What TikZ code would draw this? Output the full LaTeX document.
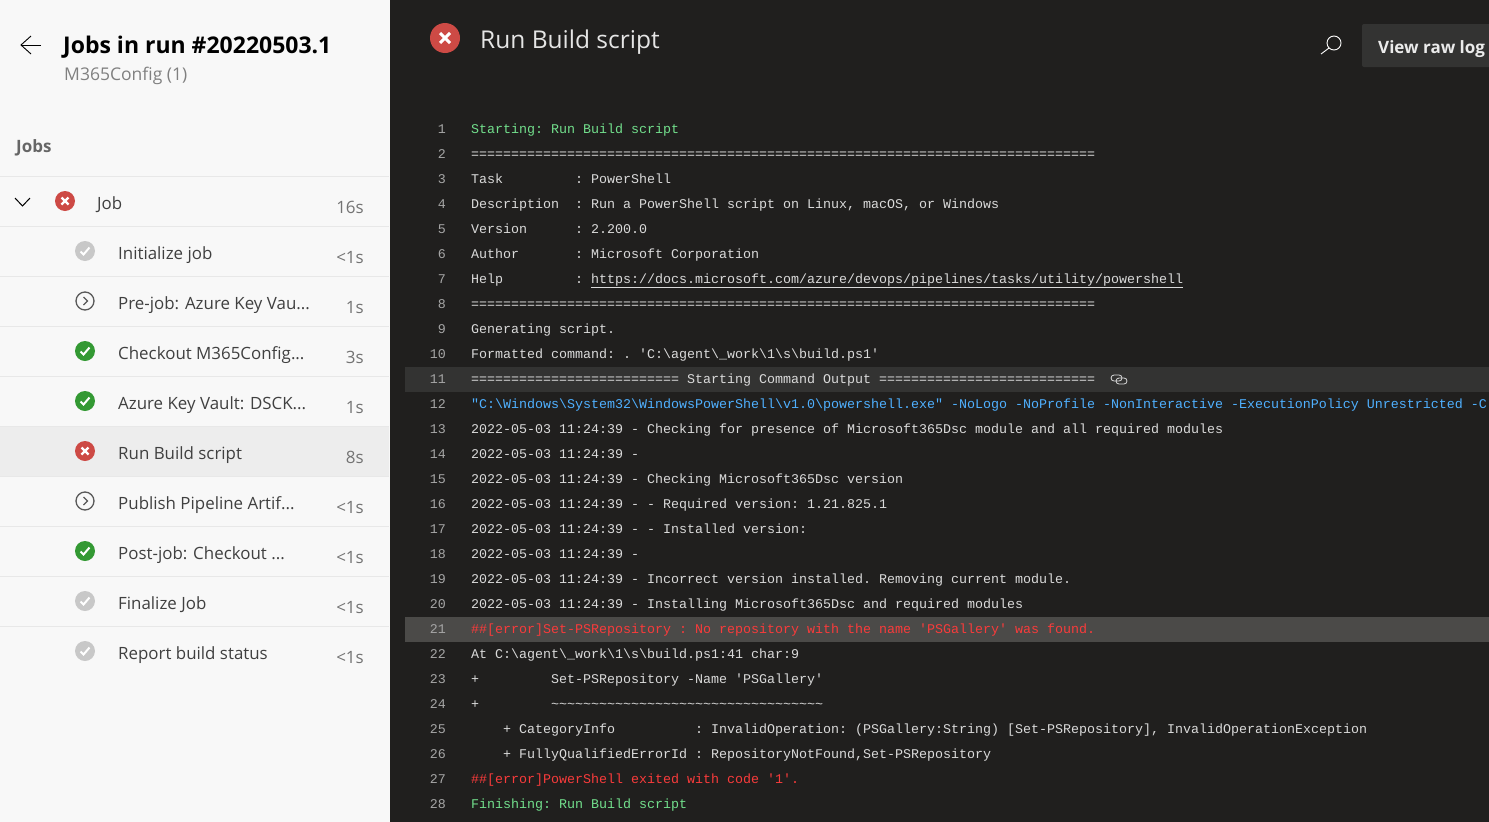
\documentclass[tikz,border=0pt]{standalone}
\usepackage{fontspec}
\setmainfont{Open Sans}
\setmonofont{Liberation Mono}
\definecolor{panelbg}{HTML}{F8F8F8}
\definecolor{logbg}{HTML}{201F1E}
\definecolor{rowline}{HTML}{E8E8E8}
\definecolor{rowsel}{HTML}{EDEDED}
\definecolor{barsel}{HTML}{333332}
\definecolor{barerr}{HTML}{4B4A48}
\definecolor{okgreen}{HTML}{339933}
\definecolor{badred}{HTML}{CD4A45}
\definecolor{skipgrey}{HTML}{C8C8C8}
\definecolor{logtxt}{HTML}{DADADA}
\definecolor{lognum}{HTML}{A6A6A6}
\definecolor{logok}{HTML}{72DF8C}
\definecolor{logerr}{HTML}{F93B3B}
\definecolor{logcmd}{HTML}{4FB0FF}
\newcommand{\bs}{\textbackslash}
\newcommand{\cutoff}{.\kern0pt.\kern0pt.}
\tikzset{
  logline/.style={anchor=base west,inner sep=0pt,text=logtxt,font=\ttfamily\fontsize{13.33}{16}\selectfont},
  lineno/.style={anchor=base east,inner sep=0pt,text=lognum,font=\ttfamily\fontsize{13.33}{16}\selectfont},
  rowname/.style={anchor=base west,inner sep=0pt,text=black!75,font=\fontsize{16.9}{20}\selectfont},
  rowtime/.style={anchor=base east,inner sep=0pt,text=black!55,font=\fontsize{17}{20}\selectfont},
  statdot/.style={circle,minimum size=20pt,inner sep=0pt},
  statok/.style={statdot,fill=okgreen,path picture={
    \draw[white,line width=2pt] ([shift={(-4.5,0.5)}]path picture bounding box.center)
      -- ++(3,3) -- ++(6,-7);}},
  statskip/.style={statdot,fill=skipgrey,path picture={
    \draw[white,line width=2pt] ([shift={(-4.5,0.5)}]path picture bounding box.center)
      -- ++(3,3) -- ++(6,-7);}},
  statbad/.style={statdot,fill=badred,path picture={
    \draw[white,line width=2.4pt] ([shift={(-3.5,-3.5)}]path picture bounding box.center) -- ++(7,7);
    \draw[white,line width=2.4pt] ([shift={(3.5,-3.5)}]path picture bounding box.center) -- ++(-7,7);}},
  statbadbig/.style={statdot,minimum size=30pt,fill=badred,path picture={
    \draw[white,line width=3pt] ([shift={(-5,-5)}]path picture bounding box.center) -- ++(10,10);
    \draw[white,line width=3pt] ([shift={(5,-5)}]path picture bounding box.center) -- ++(-10,10);}},
  statnext/.style={statdot,draw=black!65,line width=1.3pt,minimum size=18pt,path picture={
    \draw[black!65,line width=1.3pt] ([shift={(-1.5,-4)}]path picture bounding box.center)
      -- ++(4,4) -- ++(-4,4);}},
}
\newcommand{\logrow}[3][]{\node[logline,#1] (line#2) at (471,{108.5+25*#2}) {#3};}
\begin{document}
\begin{tikzpicture}[x=1pt,y=-1pt]
  \useasboundingbox (0,0) rectangle (1489,822);
  \clip (0,0) rectangle (1489,822);
  \fill[panelbg] (0,0) rectangle (390,822);
  \fill[logbg] (390,0) rectangle (1489,822);

  % left panel
  \draw[black,line width=0.9pt] (41,45) -- (21,45);
  \draw[black,line width=0.9pt] (31,36) -- (21,45) -- (31,54);
  \node[rowname,text=black,font=\fontsize{23}{28}\selectfont\bfseries] (runtitle) at (63,53) {Jobs in run \#20220503.1};
  \node[rowname,text=black!50,font=\fontsize{17.5}{20}\selectfont] (runsub) at (64,80) {M365Config (1)};
  \node[rowname,text=black!60,font=\fontsize{17}{20}\selectfont\bfseries] (jobshead) at (16,152) {Jobs};

  \fill[rowsel] (0,427) rectangle (389,477);
  \foreach \y in {176,226,...,626}
    \draw[rowline,line width=1pt] (0,\y) -- (389,\y);

  \draw[black,line width=1pt] (15,198) -- (22.5,206) -- (30,198);
  \node[statbad] (jobicon) at (65,201) {};
  \node[rowname] (jobname) at (97,209) {Job};
  \node[rowtime] (jobtime) at (364,213) {16s};

  \foreach \n/\st/\txt/\dur in {1/statskip/Initialize job/<1s,
      2/statnext/Pre-job: Azure Key Vau\cutoff/1s,
      3/statok/Checkout M365Config\cutoff/3s,
      4/statok/Azure Key Vault: DSCK\cutoff/1s,
      5/statbad/Run Build script/8s,
      6/statnext/Publish Pipeline Artif\cutoff/<1s,
      7/statok/Post-job: Checkout \cutoff/<1s,
      8/statskip/Finalize Job/<1s,
      9/statskip/Report build status/<1s}
  {
    \node[\st] (icon\n) at (85,{201+50*\n}) {};
    \node[rowname] (name\n) at (118,{209+50*\n}) {\txt};
    \node[rowtime] (time\n) at (364,{213+50*\n}) {\dur};
  }

  % log header
  \node[statbadbig] (headicon) at (445,38) {};
  \node[rowname,text=white!90!black,font=\fontsize{24.5}{28}\selectfont] (headtitle) at (480,48) {Run Build script};
  \draw[white,line width=0.9pt] (1334,43) circle (7);
  \draw[white,line width=0.9pt] (1329,48) -- (1321,54);
  \fill[barsel,rounded corners=2pt] (1362,24) rectangle (1500,67);
  \node[rowname,text=white!92!black,font=\fontsize{17}{20}\selectfont\bfseries] (rawlog) at (1378,53) {View raw log};

  % log lines
  \fill[barsel] (405,367) rectangle (1489,392);
  \fill[barerr] (405,617) rectangle (1489,642);
  \foreach \n in {1,...,28}
    \node[lineno] (num\n) at (446,{108.5+25*\n}) {\n};

  \logrow[text=logok]{1}{Starting: Run Build script}
  \logrow{2}{==============================================================================}
  \logrow{3}{Task~~~~~~~~~: PowerShell}
  \logrow{4}{Description~~: Run a PowerShell script on Linux, macOS, or Windows}
  \logrow{5}{Version~~~~~~: 2.200.0}
  \logrow{6}{Author~~~~~~~: Microsoft Corporation}
  \logrow{7}{Help~~~~~~~~~: \underline{https://docs.microsoft.com/azure/devops/pipelines/tasks/utility/powershell}}
  \logrow{8}{==============================================================================}
  \logrow{9}{Generating script.}
  \logrow{10}{Formatted command: . 'C:\bs{}agent\bs{}\_work\bs{}1\bs{}s\bs{}build.ps1'}
  \logrow{11}{========================== Starting Command Output ===========================}
  \logrow[text=logcmd]{12}{"C:\bs{}Windows\bs{}System32\bs{}WindowsPowerShell\bs{}v1.0\bs{}powershell.exe" -NoLogo -NoProfile -NonInteractive -ExecutionPolicy Unrestricted -C}
  \logrow{13}{2022-05-03 11:24:39 - Checking for presence of Microsoft365Dsc module and all required modules}
  \logrow{14}{2022-05-03 11:24:39 -}
  \logrow{15}{2022-05-03 11:24:39 - Checking Microsoft365Dsc version}
  \logrow{16}{2022-05-03 11:24:39 - - Required version: 1.21.825.1}
  \logrow{17}{2022-05-03 11:24:39 - - Installed version:}
  \logrow{18}{2022-05-03 11:24:39 -}
  \logrow{19}{2022-05-03 11:24:39 - Incorrect version installed. Removing current module.}
  \logrow{20}{2022-05-03 11:24:39 - Installing Microsoft365Dsc and required modules}
  \logrow[text=logerr]{21}{\#\#[error]Set-PSRepository : No repository with the name 'PSGallery' was found.}
  \logrow{22}{At C:\bs{}agent\bs{}\_work\bs{}1\bs{}s\bs{}build.ps1:41 char:9}
  \logrow{23}{+~~~~~~~~~Set-PSRepository -Name 'PSGallery'}
  \logrow{24}{+~~~~~~~~~\foreach \k in {1,...,34}{\textasciitilde}}
  \logrow{25}{~~~~+ CategoryInfo~~~~~~~~~~: InvalidOperation: (PSGallery:String) [Set-PSRepository], InvalidOperationException}
  \logrow{26}{~~~~+ FullyQualifiedErrorId : RepositoryNotFound,Set-PSRepository}
  \logrow[text=logerr]{27}{\#\#[error]PowerShell exited with code '1'.}
  \logrow[text=logok]{28}{Finishing: Run Build script}

  % link mark on line 11
  \draw[logtxt,line width=0.8pt,rounded corners=3pt] (1111,375) rectangle (1122,381);
  \draw[logtxt,line width=0.8pt,rounded corners=3pt] (1116,378) rectangle (1127,384);
\end{tikzpicture}
\end{document}
